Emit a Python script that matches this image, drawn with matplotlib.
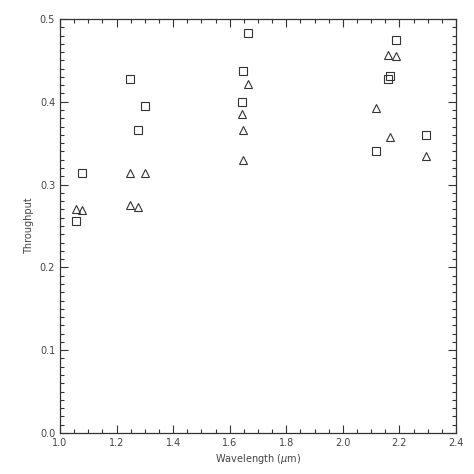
import matplotlib
matplotlib.use("Agg")
import matplotlib.pyplot as plt
from matplotlib.ticker import MultipleLocator

# Square markers
sq_wave = [1.057, 1.079, 1.247, 1.277, 1.299, 1.643, 1.648, 1.666, 2.116, 2.160, 2.166, 2.188, 2.293]
sq_thru = [0.256, 0.314, 0.428, 0.366, 0.395, 0.400, 0.437, 0.483, 0.340, 0.428, 0.431, 0.475, 0.360]

# Triangle markers
tri_wave = [1.057, 1.079, 1.247, 1.300, 1.247, 1.277, 1.643, 1.648, 1.648, 1.665, 2.116, 2.160, 2.188, 2.166, 2.293]
tri_thru = [0.271, 0.269, 0.314, 0.314, 0.275, 0.273, 0.385, 0.366, 0.330, 0.421, 0.392, 0.456, 0.455, 0.358, 0.334]

fig = plt.figure(figsize=(4.74, 4.74), dpi=100)
ax = fig.add_axes([0.1266, 0.0865, 0.8354, 0.8735])

ink = "#333333"
ax.plot(sq_wave, sq_thru, linestyle="none", marker="s", markersize=5.6,
        markerfacecolor="none", markeredgecolor=ink, markeredgewidth=0.8)
ax.plot(tri_wave, tri_thru, linestyle="none", marker="^", markersize=5.4,
        markerfacecolor="none", markeredgecolor=ink, markeredgewidth=0.8)

ax.set_xlim(1.0, 2.4)
ax.set_ylim(0.0, 0.5)
ax.xaxis.set_major_locator(MultipleLocator(0.2))
ax.xaxis.set_minor_locator(MultipleLocator(0.05))
ax.yaxis.set_major_locator(MultipleLocator(0.1))
ax.yaxis.set_minor_locator(MultipleLocator(0.01))
ax.xaxis.set_major_formatter(plt.FormatStrFormatter("%.1f"))
ax.yaxis.set_major_formatter(plt.FormatStrFormatter("%.1f"))

ax.tick_params(which="both", direction="in", top=True, right=True, colors=ink,
               labelcolor="#444444", labelsize=7, width=0.8)
ax.tick_params(which="major", length=6)
ax.tick_params(which="minor", length=3)
for s in ax.spines.values():
    s.set_color(ink)
    s.set_linewidth(0.9)

ax.set_xlabel("Wavelength ($\\mu$m)", fontsize=7, color="#444444", labelpad=3)
ax.set_ylabel("Throughput", fontsize=7, color="#444444", labelpad=4)

fig.savefig("out.png", dpi=100)
